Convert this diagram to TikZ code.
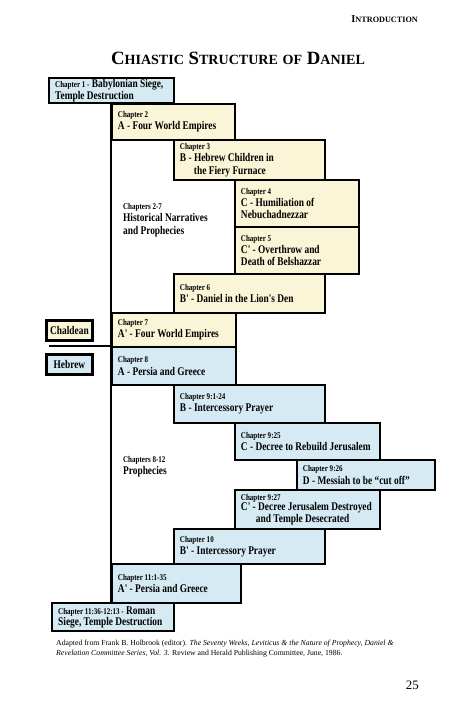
\documentclass[tikz,border=0pt]{standalone}
\usepackage{fontspec}
\setmainfont{Liberation Serif}
\newfontfamily\condfont{Liberation Serif}[FakeStretch=0.8]
\usetikzlibrary{positioning}
\definecolor{cream}{HTML}{FAF5D6}
\definecolor{sky}{HTML}{D5EAF3}
\newcommand\sml[1]{{\fontsize{7.5}{8}\selectfont #1}}
\newcommand\tsc[1]{{\fontsize{12}{12}\selectfont #1}}
\newcommand\hsc[1]{{\fontsize{7}{7}\selectfont #1}}

\begin{document}
\begin{tikzpicture}[x=0.3mm, y=-0.3mm,
  every node/.style = {font=\condfont\bfseries\fontsize{10}{10.5}\selectfont},
  box/.style 2 args = {shape=rectangle, draw, line width=1.7pt, anchor=north west,
    minimum width=#1*0.3mm, minimum height=#2*0.3mm, inner xsep=1.8mm, inner ysep=0pt,
    text width={(#1-12)*0.3mm}, align=flush left},
  yel/.style = {fill=cream},
  blu/.style = {fill=sky},
  endbox/.style = {line width=2.1pt},
  lang/.style = {shape=rectangle, draw, line width=2.5pt, anchor=north west,
    minimum width=46*0.3mm, minimum height=20*0.3mm, inner sep=0pt}]
  \useasboundingbox (0,0) rectangle (474,710);

  % page furniture
  \node (head) [anchor=base east, font=\bfseries\fontsize{9}{9}\selectfont] at (422,22) {I\hsc{NTRODUCTION}};
  \node (title) [anchor=base, font=\bfseries\fontsize{16}{16}\selectfont] at (238,64.5)
    {C\tsc{HIASTIC} S\tsc{TRUCTURE} \tsc{OF} D\tsc{ANIEL}};

  % first half, chapters 1-7
  \node (c1) [box={125}{25}, blu, endbox, font=\condfont\bfseries\fontsize{10}{8.5}\selectfont] at (48,77)
    {\sml{Chapter 1 -} Babylonian Siege,\\Temple Destruction};
  \node (c2) [box={123}{36}, yel] at (111,103) {\sml{Chapter 2}\\A - Four World Empires};
  \node (c3) [box={151}{40}, yel] at (173,139)
    {\sml{Chapter 3}\\B - Hebrew Children in\\\hspace*{4.2mm}the Fiery Furnace};
  \node (c4) [box={124}{47}, yel] at (234,179) {\sml{Chapter 4}\\C - Humiliation of\\Nebuchadnezzar};
  \node (c5) [box={124}{47}, yel] at (234,226) {\sml{Chapter 5}\\C' - Overthrow and\\Death of Belshazzar};
  \node (c6) [box={151}{39}, yel] at (173,273) {\sml{Chapter 6}\\B' - Daniel in the Lion's Den};
  \node (c7) [box={124}{34}, yel] at (111,312) {\sml{Chapter 7}\\A' - Four World Empires};

  % second half, chapters 8-12
  \node (c8) [box={124}{38}, blu] at (111,346) {\sml{Chapter 8}\\A - Persia and Greece};
  \node (c9a) [box={151}{38}, blu] at (173,384) {\sml{Chapter 9:1-24}\\B - Intercessory Prayer};
  \node (c9b) [box={145}{37}, blu] at (234,422) {\sml{Chapter 9:25}\\C - Decree to Rebuild Jerusalem};
  \node (c9c) [box={138}{30}, blu] at (296,459) {\sml{Chapter 9:26}\\D - Messiah to be “cut off”};
  \node (c9d) [box={145}{39}, blu, font=\condfont\bfseries\fontsize{10}{9}\selectfont] at (234,489)
    {\sml{Chapter 9:27}\\C' - Decree Jerusalem Destroyed\\\hspace*{4.5mm}and Temple Desecrated};
  \node (c10) [box={151}{35}, blu] at (173,528) {\sml{Chapter 10}\\B' - Intercessory Prayer};
  \node (c11a) [box={129}{39}, blu] at (111,563) {\sml{Chapter 11:1-35}\\A' - Persia and Greece};
  \node (c11b) [box={122}{28}, blu, endbox, font=\condfont\bfseries\fontsize{10}{8.5}\selectfont] at (51,602)
    {\sml{Chapter 11:36-12:13 -} Roman\\Siege, Temple Destruction};

  % section labels
  \node (hist) [anchor=west, align=left] at (119,220)
    {\sml{Chapters 2-7}\\Historical Narratives\\and Prophecies};
  \node (proph) [anchor=west, align=left] at (119,467) {\sml{Chapters 8-12}\\Prophecies};
  \node (chald) [lang, yel] at (45,319) {Chaldean};
  \node (heb) [lang, blu] at (45,353) {Hebrew};

  \coordinate (split) at (49,346);
  \draw [line width=1.7pt] (c2.north west) -- (c11a.south west);
  \draw [line width=1.3pt] (split) -- (split -| c7.south west);

  % source and page number
  \node (src) [anchor=north west, align=left, inner sep=0pt, font=\fontsize{6.6}{8}\selectfont] at (56,640)
    {Adapted from Frank B. Holbrook (editor). \textit{The Seventy Weeks, Leviticus \& the Nature of Prophecy, Daniel \&}\\
     \textit{Revelation Committee Series, Vol. 3.} Review and Herald Publishing Committee, June, 1986.};
  \node (page) [anchor=base east, font=\fontsize{11}{11}\selectfont] at (423,689) {25};
\end{tikzpicture}
\end{document}
